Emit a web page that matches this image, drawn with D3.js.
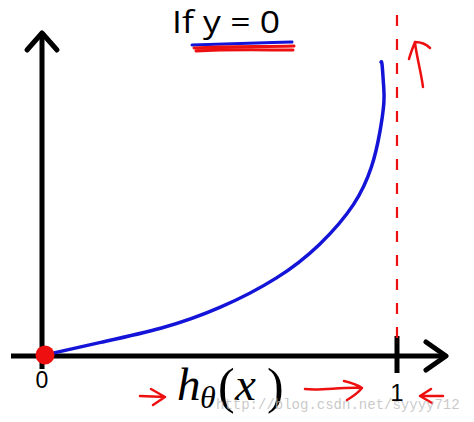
<!DOCTYPE html>
<html><head><meta charset="utf-8">
<script src="https://cdn.jsdelivr.net/npm/d3@7"></script>
<style>html,body{margin:0;padding:0;background:#fff;overflow:hidden}</style>
</head><body>
<svg id="c" width="474" height="422"></svg>
<script>
// data: hand-drawn cost curve for y = 0 (h on x axis, cost on y axis)
const hVals    = [0.0, 0.031, 0.155, 0.341, 0.501, 0.670, 0.783, 0.887, 0.932, 0.952, 0.966, 0.962, 0.958, 0.955];
const costVals = [0.0, 0.046, 0.200, 0.415, 0.723, 1.200, 1.690, 2.340, 2.920, 3.420, 3.950, 4.150, 4.540, 4.520];
const xTickLabels = ["0", "1"];
const xTickValues = [0, 1];
const titleText = "If y = 0";
const watermark = "http://blog.csdn.net/syyyy712";

const svg = d3.select("#c");
const x = d3.scaleLinear().domain([0, 1]).range([42, 397]);
const y = d3.scaleLinear().domain([0, 5]).range([356, 31]);
const black = "#000", red = "#ee1010", blue = "#1414d8";

// axes
svg.append("line").attr("x1", 11).attr("x2", 446).attr("y1", y(0)).attr("y2", y(0))
  .attr("stroke", black).attr("stroke-width", 5);
svg.append("path").attr("d", `M${426},${y(0)-14}L${446},${y(0)}L${426},${y(0)+14}`)
  .attr("fill", "none").attr("stroke", black).attr("stroke-width", 5).attr("stroke-linecap","round").attr("stroke-linejoin","round");
svg.append("line").attr("x1", x(0)).attr("x2", x(0)).attr("y1", 369).attr("y2", 33)
  .attr("stroke", black).attr("stroke-width", 5);
svg.append("path").attr("d", `M${x(0)-15},${50}L${x(0)},${33}L${x(0)+15},${50}`)
  .attr("fill", "none").attr("stroke", black).attr("stroke-width", 5).attr("stroke-linecap","round").attr("stroke-linejoin","round");
// tick at 1
svg.append("line").attr("x1", x(1)).attr("x2", x(1)).attr("y1", y(0)-20).attr("y2", y(0)+17)
  .attr("stroke", black).attr("stroke-width", 5);

// tick labels
svg.selectAll("text.tick").data(xTickValues).enter().append("text")
  .attr("class","tick").attr("x", d => x(d)).attr("y", (d,i)=> i===0 ? 388 : 401)
  .attr("text-anchor","middle").attr("font-family","Liberation Sans, Arial, sans-serif")
  .attr("font-size", (d,i)=> i===0 ? 23 : 24).attr("fill", black).text((d,i)=>xTickLabels[i]);

// red dashed asymptote
svg.append("line").attr("x1", x(1)).attr("x2", x(1)).attr("y1", 15).attr("y2", y(0)-12)
  .attr("stroke", red).attr("stroke-width", 2.2).attr("stroke-dasharray", "11,13");

// curve
const line = d3.line().x((d,i)=>x(hVals[i])).y((d,i)=>y(costVals[i])).curve(d3.curveBasis);
svg.append("path").datum(hVals).attr("d", line).attr("fill","none")
  .attr("stroke", blue).attr("stroke-width", 3.5).attr("stroke-linecap","round");

// red dot at origin
svg.append("circle").attr("cx", x(0)+3).attr("cy", y(0)-1).attr("r", 9.5).attr("fill", red);

// red up arrow
svg.append("path").attr("d", "M423,87 C421,72 417,58 415,43 M409,59 C411,52 413,47 415,42 C420,42 426,44 430,48")
  .attr("fill","none").attr("stroke", red).attr("stroke-width", 2.5).attr("stroke-linecap","round");

// title
svg.append("text").attr("x", 172).attr("y", 33).attr("font-family","Open Sans, Liberation Sans, sans-serif")
  .attr("font-size", 31).attr("textLength", 108).attr("lengthAdjust","spacingAndGlyphs")
  .attr("fill", black).text(titleText);
// underlines
svg.append("path").attr("d","M192,45 C230,44 260,43 292,42").attr("fill","none").attr("stroke", blue).attr("stroke-width",3).attr("stroke-linecap","round");
svg.append("path").attr("d","M194,48 C230,46 262,47 294,46 M196,51 C230,49 265,50 293,50")
  .attr("fill","none").attr("stroke", red).attr("stroke-width",3).attr("stroke-linecap","round");

// x-axis label h_theta(x)
const lab = svg.append("g").attr("font-family","Liberation Serif, DejaVu Serif, serif").attr("fill", black);
lab.append("text").attr("x", 177).attr("y", 400).attr("font-size", 47).attr("font-style","italic").text("h");
lab.append("text").attr("x", 200).attr("y", 408).attr("font-size", 32).attr("font-style","italic").text("θ");
lab.append("text").attr("x", 218).attr("y", 403).attr("font-size", 50).text("(");
lab.append("text").attr("x", 235).attr("y", 400).attr("font-size", 47).attr("font-style","italic").text("x");
lab.append("text").attr("x", 267).attr("y", 403).attr("font-size", 50).text(")");

// red bottom arrows
svg.append("path").attr("d","M140,396 L165,397 M151,389 L165,397 L153,405")
  .attr("fill","none").attr("stroke", red).attr("stroke-width", 2.5).attr("stroke-linecap","round").attr("stroke-linejoin","round");
svg.append("path").attr("d","M305,389 C320,391 340,387 362,388 M344,381 C352,383 358,385 362,388 C358,393 352,397 347,400")
  .attr("fill","none").attr("stroke", red).attr("stroke-width", 2.5).attr("stroke-linecap","round").attr("stroke-linejoin","round");
svg.append("path").attr("d","M443,396 L420,396 M431,389 L420,396 L432,403")
  .attr("fill","none").attr("stroke", red).attr("stroke-width", 2.5).attr("stroke-linecap","round").attr("stroke-linejoin","round");

// watermark
svg.append("text").attr("x", 216).attr("y", 409).attr("font-family","Liberation Mono, DejaVu Sans Mono, monospace")
  .attr("font-size", 14).attr("fill", "#bbbbbb").attr("fill-opacity", 0.8).text(watermark);
</script>
</body></html>
